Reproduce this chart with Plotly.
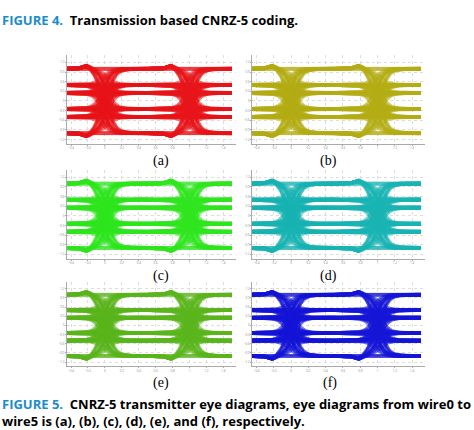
import numpy as np
import plotly.graph_objects as go

# signal levels seen in every eye (normalised), crossing instants in UI
levels = [1.0, 0.5, 0.25, -0.25, -0.5, -1.0]
crossings = [0.0, 1.0]
panel_labels = ['(a)', '(b)', '(c)', '(d)', '(e)', '(f)']
panel_colors = ['#e8141a', '#b3ad14', '#2fe61f', '#1ab3b3', '#5bb51c', '#1616d6']
x_ticks = [-0.4, -0.2, 0.0, 0.2, 0.4, 0.6, 0.8, 1.0, 1.2, 1.4]
y_ticks = [-1.2, -0.9, -0.6, -0.3, 0.0, 0.3, 0.6, 0.9, 1.2]

x_dom = [[0.141, 0.498], [0.532, 0.897]]
y_dom = [[0.665, 0.872], [0.398, 0.605], [0.148, 0.345]]


def eye_traces():
    xs, ys = [], []
    for c in crossings:
        t = np.linspace(c - 0.5, c + 0.5, 80)
        for a in levels:
            for b in levels:
                for dt in (-0.03, 0.03):
                    for dy in (-0.045, -0.015, 0.015, 0.045):
                        s = 0.5 * (1 + np.tanh((t - c - dt) / 0.1))
                        y = a + (b - a) * s + dy
                        if abs(a) == 1.0 and a != b:
                            y = y + np.sign(a) * 0.1 * np.exp(-((t - c + 0.22) / 0.07) ** 2)
                        xs += list(t) + [None]
                        ys += list(y) + [None]
    return xs, ys


fig = go.Figure()
ex, ey = eye_traces()
for i, lab in enumerate(panel_labels):
    r, c = divmod(i, 2)
    n = '' if i == 0 else str(i + 1)
    fig.add_trace(go.Scatter(x=ex, y=ey, mode='lines', xaxis='x' + n, yaxis='y' + n,
                             line=dict(color=panel_colors[i], width=0.6),
                             hoverinfo='skip', showlegend=False))
    axis_style = dict(showgrid=True, gridcolor='#dddddd', griddash='dot', gridwidth=0.5,
                      tickfont=dict(size=3, color='#888888'), showline=True,
                      linecolor='#aaaaaa', linewidth=0.5, zeroline=False, ticks='outside',
                      ticklen=1, tickcolor='#aaaaaa')
    fig.update_layout(**{
        'xaxis' + n: dict(domain=x_dom[c], range=[-0.45, 1.55], tickvals=x_ticks,
                          anchor='y' + n, **axis_style),
        'yaxis' + n: dict(domain=y_dom[r], range=[-1.34, 1.43], tickvals=y_ticks,
                          anchor='x' + n, **axis_style),
    })
    fig.add_annotation(text=lab, xref='paper', yref='paper', showarrow=False,
                       x=sum(x_dom[c]) / 2, y=y_dom[r][0] - 17 / 430, yanchor='middle',
                       font=dict(family='Liberation Serif', size=14, color='black'))

cap_font = dict(family='Open Sans', size=13, color='black')
fig.add_annotation(text='<b><span style="color:#1a8ccc">FIGURE 4.</span>  Transmission based CNRZ-5 coding.</b>',
                   xref='paper', yref='paper', x=0.0, y=1 - 20 / 430, xanchor='left', yanchor='middle',
                   showarrow=False, font=cap_font)
fig.add_annotation(text='<b><span style="color:#1a8ccc">FIGURE 5.</span>  CNRZ-5 transmitter eye diagrams, eye diagrams from wire0 to</b>',
                   xref='paper', yref='paper', x=0.0, y=1 - 404 / 430, xanchor='left', yanchor='middle',
                   showarrow=False, font=cap_font)
fig.add_annotation(text='<b>wire5 is (a), (b), (c), (d), (e), and (f), respectively.</b>',
                   xref='paper', yref='paper', x=0.0, y=1 - 421 / 430, xanchor='left', yanchor='middle',
                   showarrow=False, font=cap_font)

fig.update_layout(width=474, height=430, margin=dict(l=0, r=0, t=0, b=0),
                  paper_bgcolor='white', plot_bgcolor='white')
fig.write_html("out.html", config={'displayModeBar': False},
               post_script="document.body.style.margin='0';document.body.style.overflow='hidden';")
